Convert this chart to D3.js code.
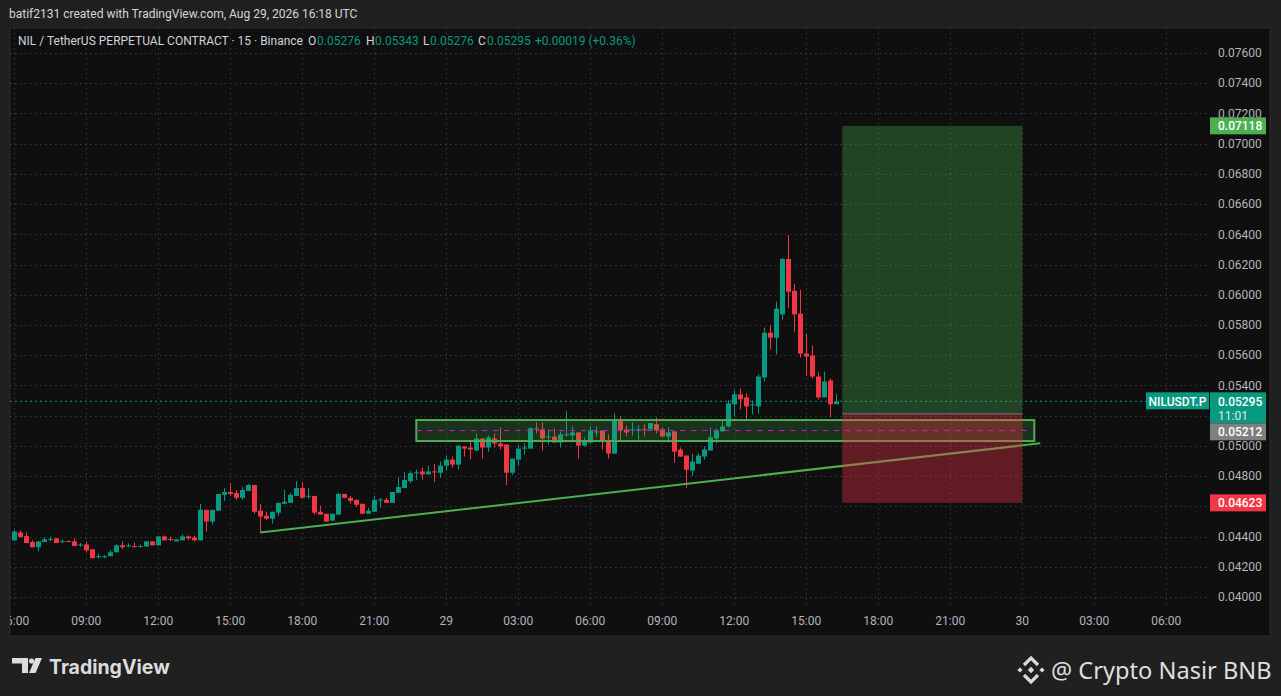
<!DOCTYPE html>
<html>
<head>
<meta charset="utf-8">
<script src="https://cdn.jsdelivr.net/npm/d3@7"></script>
<style>
  html, body { margin: 0; padding: 0; background: #202020; }
  svg { display: block; font-family: Roboto, "Noto Sans", sans-serif; }
</style>
</head>
<body>
<svg id="chart" width="1281" height="696"></svg>
<script>
// NIL/USDT perpetual, 15m bars from Aug 28 06:00 UTC
const opens = [0.04375,0.04427,0.04403,0.04364,0.04329,0.04364,0.04381,0.04388,0.04368,0.04370,
  0.04368,0.04346,0.04348,0.04316,0.04268,0.04268,0.04270,0.04296,0.04342,0.04337,
  0.04337,0.04335,0.04335,0.04368,0.04342,0.04401,0.04385,0.04368,0.04375,0.04401,
  0.04394,0.04375,0.04577,0.04499,0.04571,0.04676,0.04695,0.04689,0.04656,0.04702,
  0.04741,0.04571,0.04538,0.04518,0.04558,0.04617,0.04623,0.04669,0.04721,0.04669,
  0.04669,0.04564,0.04551,0.04505,0.04545,0.04682,0.04656,0.04643,0.04617,0.04551,
  0.04564,0.04643,0.04643,0.04623,0.04689,0.04721,0.04767,0.04822,0.04831,0.04811,
  0.04831,0.04822,0.04869,0.04909,0.04876,0.04996,0.04989,0.04969,0.05049,0.04989,
  0.05049,0.05016,0.05009,0.04822,0.04909,0.04982,0.04982,0.05116,0.05109,0.05059,
  0.05062,0.05022,0.05074,0.05069,0.05089,0.05002,0.05022,0.05094,0.05102,0.05036,
  0.04949,0.05164,0.05109,0.05107,0.05107,0.05111,0.05109,0.05144,0.05109,0.05062,
  0.05096,0.04976,0.04936,0.04836,0.04882,0.04929,0.04969,0.05049,0.05096,0.05129,
  0.05275,0.05341,0.05321,0.05273,0.05261,0.05453,0.05749,0.05716,0.05870,0.06237,
  0.06026,0.05875,0.05611,0.05598,0.05459,0.05321,0.05433,0.05276];

const highs = [0.04444,0.04440,0.04427,0.04375,0.04368,0.04394,0.04401,0.04388,0.04381,0.04375,
  0.04388,0.04357,0.04368,0.04316,0.04287,0.04278,0.04309,0.04348,0.04368,0.04355,
  0.04361,0.04348,0.04368,0.04370,0.04403,0.04407,0.04401,0.04385,0.04414,0.04407,
  0.04407,0.04617,0.04577,0.04577,0.04682,0.04721,0.04754,0.04708,0.04728,0.04748,
  0.04741,0.04617,0.04564,0.04564,0.04623,0.04708,0.04689,0.04767,0.04761,0.04721,
  0.04669,0.04604,0.04551,0.04551,0.04689,0.04682,0.04669,0.04643,0.04617,0.04591,
  0.04669,0.04656,0.04656,0.04695,0.04793,0.04826,0.04833,0.04842,0.04856,0.04869,
  0.04882,0.04896,0.04936,0.04929,0.05002,0.04996,0.05036,0.05082,0.05049,0.05069,
  0.05082,0.05122,0.05009,0.04916,0.05009,0.05016,0.05122,0.05156,0.05156,0.05109,
  0.05116,0.05096,0.05229,0.05129,0.05089,0.05056,0.05129,0.05129,0.05102,0.05076,
  0.05216,0.05196,0.05136,0.05156,0.05136,0.05144,0.05151,0.05189,0.05122,0.05122,
  0.05096,0.04989,0.04936,0.04949,0.04949,0.04996,0.05122,0.05116,0.05176,0.05302,
  0.05367,0.05380,0.05347,0.05301,0.05473,0.05783,0.05802,0.05954,0.06244,0.06396,
  0.06072,0.06032,0.05743,0.05664,0.05486,0.05492,0.05446,0.05343];

const lows = [0.04370,0.04396,0.04357,0.04329,0.04303,0.04364,0.04368,0.04357,0.04355,0.04364,
  0.04337,0.04331,0.04296,0.04257,0.04252,0.04257,0.04270,0.04296,0.04316,0.04329,
  0.04329,0.04329,0.04331,0.04342,0.04342,0.04375,0.04368,0.04368,0.04375,0.04375,
  0.04368,0.04375,0.04433,0.04479,0.04571,0.04636,0.04669,0.04643,0.04643,0.04702,
  0.04551,0.04427,0.04512,0.04486,0.04538,0.04617,0.04623,0.04669,0.04656,0.04649,
  0.04545,0.04545,0.04499,0.04505,0.04545,0.04656,0.04617,0.04597,0.04551,0.04551,
  0.04564,0.04591,0.04623,0.04623,0.04689,0.04721,0.04754,0.04776,0.04776,0.04811,
  0.04762,0.04789,0.04836,0.04856,0.04842,0.04929,0.04909,0.04969,0.04916,0.04962,
  0.04989,0.04976,0.04742,0.04809,0.04869,0.04942,0.04982,0.05082,0.04969,0.05009,
  0.05022,0.04989,0.05062,0.05022,0.04916,0.04996,0.05022,0.05062,0.04976,0.04916,
  0.04949,0.05042,0.05062,0.05069,0.05036,0.05062,0.05109,0.05082,0.05062,0.05022,
  0.04889,0.04929,0.04722,0.04802,0.04882,0.04909,0.04969,0.05016,0.05096,0.05122,
  0.05196,0.05242,0.05169,0.05209,0.05215,0.05426,0.05637,0.05604,0.05835,0.05914,
  0.05756,0.05585,0.05462,0.05446,0.05308,0.05321,0.05189,0.05276];

const closes = [0.04433,0.04396,0.04357,0.04329,0.04368,0.04381,0.04385,0.04357,0.04370,0.04368,
  0.04337,0.04348,0.04309,0.04257,0.04270,0.04270,0.04296,0.04342,0.04329,0.04342,
  0.04335,0.04337,0.04368,0.04342,0.04401,0.04375,0.04381,0.04381,0.04401,0.04388,
  0.04375,0.04577,0.04499,0.04577,0.04682,0.04695,0.04682,0.04656,0.04708,0.04741,
  0.04564,0.04532,0.04518,0.04564,0.04623,0.04630,0.04676,0.04721,0.04656,0.04670,
  0.04558,0.04545,0.04499,0.04551,0.04682,0.04656,0.04636,0.04610,0.04551,0.04571,
  0.04643,0.04645,0.04623,0.04695,0.04728,0.04774,0.04820,0.04825,0.04811,0.04831,
  0.04829,0.04869,0.04909,0.04876,0.05002,0.04982,0.04976,0.05049,0.04989,0.05056,
  0.05016,0.04996,0.04822,0.04916,0.04982,0.04989,0.05116,0.05113,0.05049,0.05062,
  0.05022,0.05076,0.05076,0.05089,0.05002,0.05029,0.05102,0.05096,0.05036,0.04949,
  0.05164,0.05102,0.05089,0.05109,0.05109,0.05109,0.05151,0.05102,0.05062,0.05089,
  0.04962,0.04929,0.04842,0.04896,0.04936,0.04976,0.05056,0.05102,0.05129,0.05282,
  0.05341,0.05308,0.05261,0.05275,0.05459,0.05749,0.05716,0.05908,0.06237,0.06020,
  0.05870,0.05611,0.05591,0.05459,0.05321,0.05426,0.05275,0.05295];

const firstBar = Date.UTC(2026, 7, 28, 6, 0);
const barMs = 15 * 60 * 1000;

const priceTicks = [0.040, 0.042, 0.044, 0.046, 0.048, 0.050, 0.052, 0.054, 0.056, 0.058,
  0.060, 0.062, 0.064, 0.066, 0.068, 0.070, 0.072, 0.074, 0.076];

// drawings on the chart
const lastPrice = 0.05295;
const countdown = "11:01";
const entryPrice = 0.05212;
const targetPrice = 0.07118;
const stopPrice = 0.04623;
const positionTimes = [Date.UTC(2026, 7, 29, 16, 30), Date.UTC(2026, 7, 30, 0, 0)];
const zoneTimes = [Date.UTC(2026, 7, 28, 22, 45), Date.UTC(2026, 7, 30, 0, 30)];
const zonePrices = [0.05171, 0.05032];
const trendTimes = [Date.UTC(2026, 7, 28, 16, 15), Date.UTC(2026, 7, 30, 0, 45)];
const trendPrices = [0.04427, 0.05017];

const UP = "#089981", DOWN = "#f23645";

const svg = d3.select("#chart");

// pane geometry
const pane = { left: 10, top: 28, right: 1270, bottom: 636 };
const plotRight = 1208;
const plotBottom = 607;

const x = d3.scaleUtc()
  .domain([firstBar, firstBar + 48 * 3600 * 1000])
  .range([14.3, 1166.3]);
const y = d3.scaleLinear().domain([0.040, 0.076]).range([597, 53]);

const bars = opens.map((o, i) => ({
  t: firstBar + i * barMs, o, h: highs[i], l: lows[i], c: closes[i],
}));

svg.append("rect").attr("width", 1281).attr("height", 696).attr("fill", "#202020");
svg.append("rect")
  .attr("x", pane.left).attr("y", pane.top)
  .attr("width", pane.right - pane.left).attr("height", pane.bottom - pane.top)
  .attr("fill", "#0f0f0f").attr("stroke", "#2a2a2a");

const defs = svg.append("defs");
defs.append("clipPath").attr("id", "plot-clip").append("rect")
  .attr("x", pane.left).attr("y", pane.top)
  .attr("width", plotRight - pane.left).attr("height", plotBottom - pane.top);
defs.append("clipPath").attr("id", "pane-clip").append("rect")
  .attr("x", pane.left).attr("y", pane.top)
  .attr("width", pane.right - pane.left).attr("height", pane.bottom - pane.top);

// header
svg.append("text")
  .attr("x", 9).attr("y", 18)
  .attr("fill", "#d6d6d6").attr("font-size", 12)
  .text("batif2131 created with TradingView.com, Aug 29, 2026 16:18 UTC");

// grid
const timeTicks = x.ticks(d3.utcHour.every(3));
const gGrid = svg.append("g").attr("clip-path", "url(#plot-clip)");
gGrid.selectAll("line.h").data(priceTicks).join("line")
  .attr("class", "h")
  .attr("x1", pane.left).attr("x2", plotRight)
  .attr("y1", d => Math.round(y(d)) + 0.5).attr("y2", d => Math.round(y(d)) + 0.5)
  .attr("stroke", "#3a3a3a").attr("stroke-dasharray", "1.5 3.5");
gGrid.selectAll("line.v").data(timeTicks).join("line")
  .attr("class", "v")
  .attr("x1", d => Math.round(x(d)) + 0.5).attr("x2", d => Math.round(x(d)) + 0.5)
  .attr("y1", pane.top).attr("y2", plotBottom)
  .attr("stroke", "#3a3a3a").attr("stroke-dasharray", "1.5 3.5");

// legend
const legend = svg.append("text").attr("y", 45).attr("font-size", 12);
const legendParts = [
  [18, "NIL / TetherUS PERPETUAL CONTRACT · 15 · Binance", "#d1d4dc"],
  [308, "O", "#d1d4dc"], [317, "0.05276", UP],
  [366, "H", "#d1d4dc"], [375, "0.05343", UP],
  [423, "L", "#d1d4dc"], [430, "0.05276", UP],
  [478, "C", "#d1d4dc"], [487, "0.05295", UP],
  [535, "+0.00019 (+0.36%)", UP],
];
legend.selectAll("tspan").data(legendParts).join("tspan")
  .attr("x", d => d[0]).attr("fill", d => d[2]).text(d => d[1]);

// last price line
svg.append("line")
  .attr("x1", pane.left).attr("x2", 1146)
  .attr("y1", y(lastPrice)).attr("y2", y(lastPrice))
  .attr("stroke", UP).attr("stroke-width", 1).attr("stroke-dasharray", "2 3");

// candles
const gCandles = svg.append("g").attr("clip-path", "url(#plot-clip)");
const candle = gCandles.selectAll("g").data(bars).join("g")
  .attr("transform", d => `translate(${Math.round(x(d.t))},0)`);
candle.append("line")
  .attr("x1", 0.5).attr("x2", 0.5)
  .attr("y1", d => y(d.h)).attr("y2", d => y(d.l))
  .attr("stroke", d => (d.c >= d.o ? UP : DOWN));
candle.append("rect")
  .attr("x", -2).attr("width", 5)
  .attr("y", d => y(Math.max(d.o, d.c)))
  .attr("height", d => Math.max(1, Math.abs(y(d.o) - y(d.c))))
  .attr("fill", d => (d.c >= d.o ? UP : DOWN));

// support zone rectangle with mid line
const gDraw = svg.append("g").attr("clip-path", "url(#plot-clip)");
gDraw.append("rect")
  .attr("x", x(zoneTimes[0])).attr("y", y(zonePrices[0]))
  .attr("width", x(zoneTimes[1]) - x(zoneTimes[0]))
  .attr("height", y(zonePrices[1]) - y(zonePrices[0]))
  .attr("fill", "rgba(76,175,80,0.22)")
  .attr("stroke", "#4caf50").attr("stroke-width", 2);
gDraw.append("line")
  .attr("x1", x(zoneTimes[0])).attr("x2", x(zoneTimes[1]))
  .attr("y1", y(d3.mean(zonePrices))).attr("y2", y(d3.mean(zonePrices)))
  .attr("stroke", "#c21fc9").attr("stroke-width", 1).attr("stroke-dasharray", "5 6");

// trend line
gDraw.append("line")
  .attr("x1", x(trendTimes[0])).attr("y1", y(trendPrices[0]))
  .attr("x2", x(trendTimes[1])).attr("y2", y(trendPrices[1]))
  .attr("stroke", "#4caf50").attr("stroke-width", 2);

// long position tool
const px0 = x(positionTimes[0]), px1 = x(positionTimes[1]);
gDraw.append("rect")
  .attr("x", px0).attr("y", y(targetPrice))
  .attr("width", px1 - px0).attr("height", y(entryPrice) - y(targetPrice))
  .attr("fill", "rgba(76,175,80,0.33)");
gDraw.append("rect")
  .attr("x", px0).attr("y", y(entryPrice))
  .attr("width", px1 - px0).attr("height", y(stopPrice) - y(entryPrice))
  .attr("fill", "rgba(242,54,69,0.36)");
gDraw.append("line")
  .attr("x1", px0).attr("x2", px1)
  .attr("y1", y(entryPrice)).attr("y2", y(entryPrice))
  .attr("stroke", "#787b86");

// coloured tag boxes on the price scale (top, bottom in pixels)
const ly = y(lastPrice);
const tagBoxes = [
  [y(targetPrice) - 8.5, y(targetPrice) + 8.5],
  [ly - 9, ly + 39],
  [y(stopPrice) - 8.5, y(stopPrice) + 8.5],
];
// tick labels hidden under a tag are not drawn
const visibleTicks = priceTicks.filter(p => {
  const cy = y(p);
  return !tagBoxes.some(([t, b]) => cy > t && cy < b);
});

// price axis labels
const gAxisY = svg.append("g").attr("font-size", 12).attr("fill", "#b2b5be");
gAxisY.selectAll("text").data(visibleTicks).join("text")
  .attr("x", 1218).attr("y", d => y(d)).attr("dy", "0.35em")
  .text(d => d3.format(".5f")(d));

// time axis labels
const fmtTime = d => (d.getUTCHours() === 0 ? d3.utcFormat("%-d")(d) : d3.utcFormat("%H:%M")(d));
svg.append("g").attr("clip-path", "url(#pane-clip)")
  .attr("font-size", 12).attr("fill", "#b2b5be").attr("text-anchor", "middle")
  .selectAll("text").data(timeTicks).join("text")
  .attr("x", d => x(d)).attr("y", 625)
  .text(fmtTime);

// coloured price tags
const tags = [
  { price: targetPrice, bg: "#4caf50" },
  { price: stopPrice, bg: DOWN },
];
const gTags = svg.append("g").attr("font-size", 12).attr("font-weight", 500);
tags.forEach(t => {
  const cy = y(t.price);
  gTags.append("rect").attr("x", 1210).attr("y", cy - 8.5).attr("width", 56).attr("height", 17).attr("fill", t.bg);
  gTags.append("text").attr("x", 1218).attr("y", cy).attr("dy", "0.35em").attr("fill", "#fff")
    .text(d3.format(".5f")(t.price));
});

// last price tag with countdown, and entry tag pushed below it
gTags.append("rect").attr("x", 1146).attr("y", ly - 9).attr("width", 63).attr("height", 17).attr("fill", UP);
gTags.append("text").attr("x", 1177.5).attr("y", ly).attr("dy", "0.35em")
  .attr("text-anchor", "middle").attr("fill", "#fff").text("NILUSDT.P");
gTags.append("rect").attr("x", 1210).attr("y", ly - 9).attr("width", 56).attr("height", 31).attr("fill", UP);
gTags.append("text").attr("x", 1218).attr("y", ly).attr("dy", "0.35em").attr("fill", "#fff")
  .text(d3.format(".5f")(lastPrice));
gTags.append("text").attr("x", 1218).attr("y", ly + 14).attr("dy", "0.35em").attr("fill", "#e6e6e6")
  .attr("font-weight", 400).text(countdown);
gTags.append("rect").attr("x", 1210).attr("y", ly + 22).attr("width", 56).attr("height", 17).attr("fill", "#7f7f7f");
gTags.append("text").attr("x", 1218).attr("y", ly + 30.5).attr("dy", "0.35em").attr("fill", "#fff")
  .text(d3.format(".5f")(entryPrice));

// TradingView logo
const logo = svg.append("g").attr("fill", "#dcdcdc");
logo.append("path").attr("d", "M12,658 H28 V673 H22 V663.5 H12 Z");
logo.append("circle").attr("cx", 31.5).attr("cy", 661).attr("r", 2.6);
logo.append("path").attr("d", "M35.5,658 H42 L35.5,673 H29 Z");
logo.append("text").attr("x", 49).attr("y", 674)
  .attr("font-family", "Inter, Roboto, sans-serif").attr("font-weight", 700)
  .attr("font-size", 19.5).text("TradingView");

// watermark
const wm = svg.append("g").attr("fill", "#dadada").attr("stroke", "none");
const bx = 1031, by = 670;
wm.append("path")
  .attr("d", `M${bx - 7},${by - 5} L${bx},${by - 12} L${bx + 7},${by - 5} M${bx - 7},${by + 5} L${bx},${by + 12} L${bx + 7},${by + 5}`)
  .attr("fill", "none").attr("stroke", "#dadada").attr("stroke-width", 3.2);
[[-11, 0, 2.6], [11, 0, 2.6], [0, 0, 3.2]].forEach(([dx, dy, r]) => {
  wm.append("path").attr("d", `M${bx + dx - r},${by + dy} L${bx + dx},${by + dy - r} L${bx + dx + r},${by + dy} L${bx + dx},${by + dy + r} Z`);
});
wm.append("text").attr("x", 1051).attr("y", 679)
  .attr("font-family", "'Noto Sans', 'Open Sans', sans-serif").attr("font-size", 23.6)
  .attr("fill", "#dedede").text("@ Crypto Nasir BNB");
</script>
</body>
</html>
